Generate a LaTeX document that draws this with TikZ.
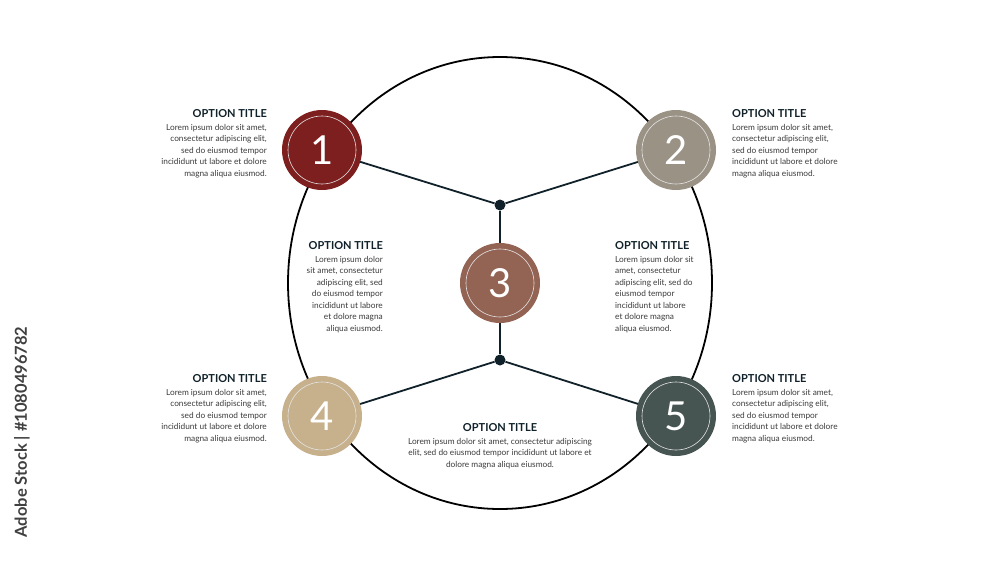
\documentclass[tikz,border=0pt]{standalone}
\usepackage{fontspec}
\setmainfont{Lato}
\definecolor{cA}{HTML}{7E1F1F}
\definecolor{cB}{HTML}{9A9285}
\definecolor{cC}{HTML}{936354}
\definecolor{cD}{HTML}{C7B08C}
\definecolor{cE}{HTML}{465552}
\definecolor{ink}{HTML}{10212A}
\definecolor{body}{HTML}{3A3A3A}
\begin{document}
\begin{tikzpicture}[x=1pt,y=-1pt,
  num/.style={circle,minimum size=80pt,inner sep=0pt,text=white,font=\fontsize{40}{40}\selectfont},
  ring/.style={circle,draw=white!80!gray,line width=0.6pt,minimum size=68pt,inner sep=0pt},
  ttl/.style={font=\fontsize{11}{12}\selectfont\bfseries,text=ink,inner sep=0pt},
  txt/.style={font=\fontsize{8.3}{11.5}\selectfont,text=body,inner sep=0pt},
  dot/.style={circle,fill=ink,minimum size=11pt,inner sep=0pt},
  ln/.style={line width=1.8pt,draw=ink}]
\useasboundingbox (0,0) rectangle (1000,563);
\draw[line width=1.8pt,draw=black] (500,283) ellipse [x radius=212, y radius=226];
\node[dot] (d1) at (500,205) {};
\node[dot] (d2) at (500,360) {};
\coordinate (p1) at (322,150);
\coordinate (p2) at (676,150);
\coordinate (p3) at (500,283);
\coordinate (p4) at (322,416);
\coordinate (p5) at (676,416);
\draw[ln] (p1) -- (d1) -- (p2);
\draw[ln] (d1) -- (p3) -- (d2);
\draw[ln] (p4) -- (d2) -- (p5);
\node[num,fill=cA] (n1) at (p1) {1}; \node[ring] at (p1) {};
\node[num,fill=cB] (n2) at (p2) {2}; \node[ring] at (p2) {};
\node[num,fill=cC] (n3) at (p3) {3}; \node[ring] at (p3) {};
\node[num,fill=cD] (n4) at (p4) {4}; \node[ring] at (p4) {};
\node[num,fill=cE] (n5) at (p5) {5}; \node[ring] at (p5) {};
\node[ttl,anchor=north east] (t1) at (267,109) {OPTION TITLE};
\node[txt,anchor=north east,align=right] (b1) at (267,124) {Lorem ipsum dolor sit amet,\\consectetur adipiscing elit,\\sed do eiusmod tempor\\incididunt ut labore et dolore\\magna aliqua eiusmod.};
\node[ttl,anchor=north west] (t2) at (732,109) {OPTION TITLE};
\node[txt,anchor=north west,align=left] (b2) at (732,124) {Lorem ipsum dolor sit amet,\\consectetur adipiscing elit,\\sed do eiusmod tempor\\incididunt ut labore et dolore\\magna aliqua eiusmod.};
\node[ttl,anchor=north east] (t3) at (383,241) {OPTION TITLE};
\node[txt,anchor=north east,align=right] (b3) at (383,256) {Lorem ipsum dolor\\sit amet, consectetur\\adipiscing elit, sed\\do eiusmod tempor\\incididunt ut labore\\et dolore magna\\aliqua eiusmod.};
\node[ttl,anchor=north west] (t4) at (615,241) {OPTION TITLE};
\node[txt,anchor=north west,align=left] (b4) at (615,256) {Lorem ipsum dolor sit\\amet, consectetur\\adipiscing elit, sed do\\eiusmod tempor\\incididunt ut labore\\et dolore magna\\aliqua eiusmod.};
\node[ttl,anchor=north east] (t5) at (267,374) {OPTION TITLE};
\node[txt,anchor=north east,align=right] (b5) at (267,389) {Lorem ipsum dolor sit amet,\\consectetur adipiscing elit,\\sed do eiusmod tempor\\incididunt ut labore et dolore\\magna aliqua eiusmod.};
\node[ttl,anchor=north west] (t6) at (732,374) {OPTION TITLE};
\node[txt,anchor=north west,align=left] (b6) at (732,389) {Lorem ipsum dolor sit amet,\\consectetur adipiscing elit,\\sed do eiusmod tempor\\incididunt ut labore et dolore\\magna aliqua eiusmod.};
\node[ttl,anchor=north] (t7) at (500,423) {OPTION TITLE};
\node[txt,anchor=north,align=center] (b7) at (500,438) {Lorem ipsum dolor sit amet, consectetur adipiscing\\elit, sed do eiusmod tempor incididunt ut labore et\\dolore magna aliqua eiusmod.};
\node[rotate=90,font=\fontsize{16.5}{16.5}\selectfont\bfseries,text=black!75,inner sep=0pt] (wm) at (22,432) {Adobe Stock | \#1080496782};
\end{tikzpicture}
\end{document}
